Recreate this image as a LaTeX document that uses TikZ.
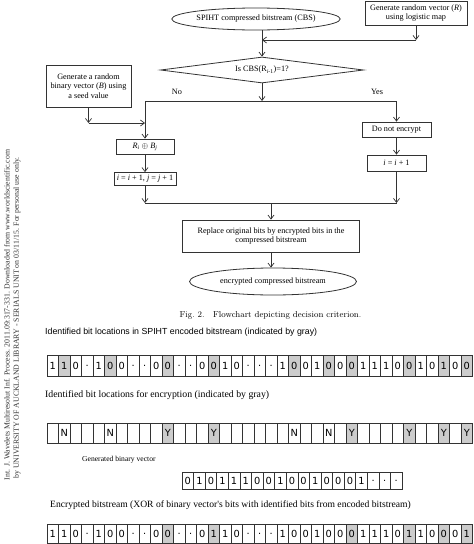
\documentclass[tikz,border=0pt]{standalone}
\usepackage{fontspec}
\newfontfamily\tnr{Liberation Serif}
\newfontfamily\bitfont{DejaVu Sans}
\newfontfamily\asans{Liberation Sans}
\usetikzlibrary{shapes.geometric,arrows.meta}
\definecolor{cellgray}{gray}{0.80}
\definecolor{linec}{gray}{0.2}
\newcommand\bitrow[6]{%
  \foreach \v/\g [count=\k] in {#6} {%
    \ifnum\g=1 \def\fillc{cellgray}\else\def\fillc{white}\fi
    \if\v e
      \node[bitcell, fill=\fillc, minimum width=#4pt, minimum height=#5pt] (#1\k) at ({#2+(\k-0.5)*#4}, #3) {};
    \else
      \node[bitcell, fill=\fillc, minimum width=#4pt, minimum height=#5pt] (#1\k) at ({#2+(\k-0.5)*#4}, #3) {\v};
    \fi
  }%
}
\begin{document}
\begin{tikzpicture}[x=1pt,y=-1pt,
  >={Straight Barb[length=4pt,width=6pt]},
  conn/.style={draw=linec, line width=0.7pt},
  box/.style={draw=linec, line width=0.8pt, align=center, inner sep=0pt,
    font=\tnr\fontsize{8.2}{9.7}\selectfont},
  ebox/.style={box, ellipse},
  dbox/.style={box, diamond, aspect=7},
  lbl/.style={inner sep=0pt, font=\tnr\fontsize{8.2}{9.7}\selectfont},
  bitcell/.style={draw=linec, line width=0.6pt, inner sep=0pt,
    font=\bitfont\fontsize{9.8}{10}\selectfont},
  rowlbl/.style={inner sep=0pt, anchor=west, font=\tnr\fontsize{9.8}{11}\selectfont},
  side/.style={inner sep=0pt, rotate=90, text=black!80, font=\tnr\fontsize{7.8}{8}\selectfont}
]
\useasboundingbox (0,0) rectangle (474,544);

% side text
\node[side] (side1) at (7,315) {Int. J. Wavelets Multiresolut Inf. Process. 2011.09:317-331. Downloaded from www.worldscientific.com};
\node[side] (side2) at (17,318) {by UNIVERSITY OF AUCKLAND LIBRARY - SERIALS UNIT on 03/11/15. For personal use only.};

% flowchart nodes
\node[ebox, minimum width=166pt, minimum height=22pt] (cbs) at (256,19) {SPIHT compressed bitstream (CBS)};
\node[box, minimum width=102pt, minimum height=24pt] (genR) at (416,13) {Generate random vector (\textit{R})\\using logistic map};
\node[dbox, minimum width=203pt, minimum height=26pt] (dia) at (262,70) {Is CBS(R\textsubscript{\textit{i}-1})=1?};
\node[box, minimum width=85pt, minimum height=42pt] (genB) at (88.5,86) {Generate a random\\binary vector (\textit{B}) using\\a seed value};
\node[box, minimum width=58pt, minimum height=15pt] (xor) at (145,146.5) {\textit{R}\textsubscript{\textit{i}} $\oplus$ \textit{B}\textsubscript{\textit{j}}};
\node[box, minimum width=62pt, minimum height=13pt] (incij) at (145,179) {\textit{i} = \textit{i} + 1, \textit{j} = \textit{j} + 1};
\node[box, minimum width=69pt, minimum height=15pt] (donot) at (396.5,129.5) {Do not encrypt};
\node[box, minimum width=59pt, minimum height=16pt] (inci) at (396.5,163) {\textit{i} = \textit{i} + 1};
\node[box, minimum width=177pt, minimum height=32pt] (repl) at (271,236) {Replace original bits by encrypted bits in the\\compressed bitstream};
\node[ebox, minimum width=167pt, minimum height=27pt] (enc) at (273,281.5) {encrypted compressed bitstream};
\node[lbl] (no) at (177,92) {No};
\node[lbl] (yes) at (377,92) {Yes};

% junction coordinates
\coordinate (r1) at (416,40);
\coordinate (r2) at (262,40);
\coordinate (s0) at (262,101);
\coordinate (sL) at (145,101);
\coordinate (sR) at (396.5,101);
\coordinate (b1) at (88.5,123);
\coordinate (b2) at (145,123);
\coordinate (mL) at (145,203);
\coordinate (mR) at (396.5,203);
\coordinate (mM) at (271,203);

% connectors
\draw[conn] (cbs.south -| dia.north) -- (r2);
\draw[conn,->] (r2) -- (dia.north);
\draw[conn,->] (genR.south) -- (r1);
\draw[conn,->] (r1) -- (r2);
\draw[conn,->] (dia.south) -- (s0);
\draw[conn] (sL) -- (sR);
\draw[conn,->] (sL) -- (xor.north);
\draw[conn,->] (sR) -- (donot.north);
\draw[conn,->] (genB.south) -- (b1);
\draw[conn,->] (b1) -- (b2);
\draw[conn,->] (xor.south) -- (incij.north);
\draw[conn,->] (incij.south) -- (mL);
\draw[conn,->] (donot.south) -- (inci.north);
\draw[conn,->] (inci.south) -- (mR);
\draw[conn] (mL) -- (mR);
\draw[conn,->] (mM) -- (repl.north);
\draw[conn,->] (repl.south) -- (repl.south |- enc.north);

% caption
\node[inner sep=0pt, font=\fontsize{8.6}{9}\selectfont] (cap) at (270.5,315) {Fig.~2.\quad Flowchart depicting decision criterion.};

% row labels
\node[rowlbl, font=\asans\fontsize{8.8}{10}\selectfont] (lbl1) at (45,332) {Identified bit locations in SPIHT encoded bitstream (indicated by gray)};
\node[rowlbl] (lbl2) at (45,395) {Identified bit locations for encryption (indicated by gray)};
\node[rowlbl, font=\tnr\fontsize{7.6}{9}\selectfont] (lbl3) at (82,460) {Generated binary vector};
\node[rowlbl, font=\tnr\fontsize{9.6}{11}\selectfont] (lbl4) at (50,505) {Encrypted bitstream (XOR of binary vector's bits with identified bits from encoded bitstream)};

% bit rows
\bitrow{ra}{47}{365.5}{11.5}{21}{1/0,1/1,0/0,./0,1/0,0/1,0/0,./0,./0,0/0,0/1,./0,./0,0/0,0/1,1/0,0/0,./0,./0,./0,1/0,0/1,0/0,1/0,0/1,0/0,0/1,1/0,1/0,1/0,0/0,0/1,1/0,0/0,1/1,0/0,0/1}
\bitrow{rb}{47}{433}{11.5}{20}{e/0,N/0,e/0,e/0,e/0,N/0,e/0,e/0,e/0,e/0,Y/1,e/0,e/0,e/0,Y/1,e/0,e/0,e/0,e/0,e/0,e/0,N/0,e/0,e/0,N/0,e/0,Y/1,e/0,e/0,e/0,e/0,Y/1,e/0,e/0,Y/1,e/0,Y/1}
\bitrow{rc}{182}{480.5}{11.58}{17}{0/0,1/0,0/0,1/0,1/0,1/0,0/0,0/0,1/0,0/0,0/0,1/0,0/0,0/0,0/0,1/0,./0,./0,./0}
\bitrow{rd}{47}{533.5}{11.5}{19}{1/0,1/0,0/0,./0,1/0,0/0,0/0,./0,./0,0/0,0/1,./0,./0,0/0,1/1,1/0,0/0,./0,./0,./0,1/0,0/0,0/0,1/0,0/0,0/0,0/1,1/0,1/0,1/0,0/0,1/1,1/0,0/0,0/1,0/0,1/1}
\end{tikzpicture}
\end{document}
